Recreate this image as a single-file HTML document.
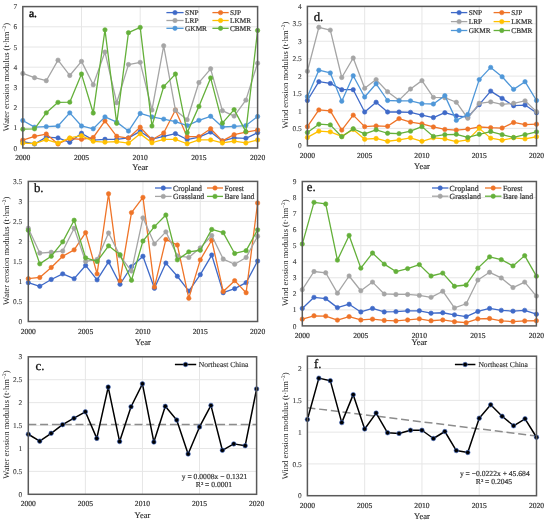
<!DOCTYPE html>
<html><head><meta charset="utf-8"><style>
html,body{margin:0;padding:0;background:#fff;width:550px;height:527px;overflow:hidden}
svg{display:block;will-change:transform}
text{font-family:"Liberation Serif", serif;text-rendering:geometricPrecision}
.tk{font-size:7.4px;fill:#383838;stroke:#383838;stroke-width:0.1px}
.yt{font-size:8.5px;fill:#262626}
.xk{font-size:7.6px;fill:#303030;stroke:#303030;stroke-width:0.2px}
.tt{font-size:8.5px;fill:#262626;stroke:#262626;stroke-width:0.15px}
.sup{font-size:5.5px}
.pl{font-size:12.8px;fill:#111;stroke:#111;stroke-width:0.3px}
.pla{font-size:11.4px;fill:#111;stroke:#111;stroke-width:0.55px}
.lg{font-size:7.3px;fill:#333333;stroke:#333;stroke-width:0.2px}
.lg3{font-size:7.6px;fill:#333;stroke:#333;stroke-width:0.15px}
.lg2{font-size:7.8px;fill:#333;stroke:#333;stroke-width:0.2px}
.eq{font-size:7.6px;fill:#333333;stroke:#333;stroke-width:0.2px}
</style></head><body>
<svg width="550" height="527" viewBox="0 0 550 527">
<rect width="550" height="527" fill="#fff"/>
<line x1="22.80" y1="127.80" x2="257.60" y2="127.80" stroke="#E6E6E6" stroke-width="1"/>
<line x1="22.80" y1="107.60" x2="257.60" y2="107.60" stroke="#E6E6E6" stroke-width="1"/>
<line x1="22.80" y1="87.40" x2="257.60" y2="87.40" stroke="#E6E6E6" stroke-width="1"/>
<line x1="22.80" y1="67.20" x2="257.60" y2="67.20" stroke="#E6E6E6" stroke-width="1"/>
<line x1="22.80" y1="47.00" x2="257.60" y2="47.00" stroke="#E6E6E6" stroke-width="1"/>
<line x1="22.80" y1="26.80" x2="257.60" y2="26.80" stroke="#E6E6E6" stroke-width="1"/>
<line x1="81.50" y1="6.60" x2="81.50" y2="148.00" stroke="#E6E6E6" stroke-width="1"/>
<line x1="140.20" y1="6.60" x2="140.20" y2="148.00" stroke="#E6E6E6" stroke-width="1"/>
<line x1="198.90" y1="6.60" x2="198.90" y2="148.00" stroke="#E6E6E6" stroke-width="1"/>
<text x="17.20" y="150.60" class="tk" text-anchor="end">0</text>
<text x="17.20" y="130.40" class="tk" text-anchor="end">1</text>
<text x="17.20" y="110.20" class="tk" text-anchor="end">2</text>
<text x="17.20" y="90.00" class="tk" text-anchor="end">3</text>
<text x="17.20" y="69.80" class="tk" text-anchor="end">4</text>
<text x="17.20" y="49.60" class="tk" text-anchor="end">5</text>
<text x="17.20" y="29.40" class="tk" text-anchor="end">6</text>
<text x="17.20" y="9.20" class="tk" text-anchor="end">7</text>
<text x="22.80" y="159.80" class="xk" text-anchor="middle">2000</text>
<text x="81.50" y="159.80" class="xk" text-anchor="middle">2005</text>
<text x="140.20" y="159.80" class="xk" text-anchor="middle">2010</text>
<text x="198.90" y="159.80" class="xk" text-anchor="middle">2015</text>
<text x="257.60" y="159.80" class="xk" text-anchor="middle">2020</text>
<text x="140.20" y="170.00" class="tt" text-anchor="middle">Year</text>
<text class="yt" text-anchor="middle" transform="translate(6.30 77.00) rotate(-90)" dy="3">Water erosion modulus (t·hm<tspan class="sup" dy="-3">−2</tspan><tspan dy="3">)</tspan></text>
<text x="29.00" y="16.70" class="pla">a.</text>
<line x1="307.40" y1="128.38" x2="536.50" y2="128.38" stroke="#E6E6E6" stroke-width="1"/>
<line x1="307.40" y1="110.95" x2="536.50" y2="110.95" stroke="#E6E6E6" stroke-width="1"/>
<line x1="307.40" y1="93.53" x2="536.50" y2="93.53" stroke="#E6E6E6" stroke-width="1"/>
<line x1="307.40" y1="76.10" x2="536.50" y2="76.10" stroke="#E6E6E6" stroke-width="1"/>
<line x1="307.40" y1="58.68" x2="536.50" y2="58.68" stroke="#E6E6E6" stroke-width="1"/>
<line x1="307.40" y1="41.25" x2="536.50" y2="41.25" stroke="#E6E6E6" stroke-width="1"/>
<line x1="307.40" y1="23.83" x2="536.50" y2="23.83" stroke="#E6E6E6" stroke-width="1"/>
<line x1="364.67" y1="6.40" x2="364.67" y2="145.80" stroke="#E6E6E6" stroke-width="1"/>
<line x1="421.95" y1="6.40" x2="421.95" y2="145.80" stroke="#E6E6E6" stroke-width="1"/>
<line x1="479.23" y1="6.40" x2="479.23" y2="145.80" stroke="#E6E6E6" stroke-width="1"/>
<text x="301.80" y="148.40" class="tk" text-anchor="end">0</text>
<text x="301.80" y="130.97" class="tk" text-anchor="end">0.5</text>
<text x="301.80" y="113.55" class="tk" text-anchor="end">1</text>
<text x="301.80" y="96.12" class="tk" text-anchor="end">1.5</text>
<text x="301.80" y="78.70" class="tk" text-anchor="end">2</text>
<text x="301.80" y="61.28" class="tk" text-anchor="end">2.5</text>
<text x="301.80" y="43.85" class="tk" text-anchor="end">3</text>
<text x="301.80" y="26.43" class="tk" text-anchor="end">3.5</text>
<text x="301.80" y="9.00" class="tk" text-anchor="end">4</text>
<text x="307.40" y="158.00" class="xk" text-anchor="middle">2000</text>
<text x="364.67" y="158.00" class="xk" text-anchor="middle">2005</text>
<text x="421.95" y="158.00" class="xk" text-anchor="middle">2010</text>
<text x="479.23" y="158.00" class="xk" text-anchor="middle">2015</text>
<text x="536.50" y="158.00" class="xk" text-anchor="middle">2020</text>
<text x="421.95" y="169.00" class="tt" text-anchor="middle">Year</text>
<text class="yt" text-anchor="middle" transform="translate(284.80 75.00) rotate(-90)" dy="3">Wind erosion modulus (t·hm<tspan class="sup" dy="-3">−2</tspan><tspan dy="3">)</tspan></text>
<text x="313.70" y="20.80" class="pl">d.</text>
<line x1="28.30" y1="301.49" x2="257.60" y2="301.49" stroke="#E6E6E6" stroke-width="1"/>
<line x1="28.30" y1="281.47" x2="257.60" y2="281.47" stroke="#E6E6E6" stroke-width="1"/>
<line x1="28.30" y1="261.46" x2="257.60" y2="261.46" stroke="#E6E6E6" stroke-width="1"/>
<line x1="28.30" y1="241.44" x2="257.60" y2="241.44" stroke="#E6E6E6" stroke-width="1"/>
<line x1="28.30" y1="221.43" x2="257.60" y2="221.43" stroke="#E6E6E6" stroke-width="1"/>
<line x1="28.30" y1="201.41" x2="257.60" y2="201.41" stroke="#E6E6E6" stroke-width="1"/>
<line x1="85.62" y1="181.40" x2="85.62" y2="321.50" stroke="#E6E6E6" stroke-width="1"/>
<line x1="142.95" y1="181.40" x2="142.95" y2="321.50" stroke="#E6E6E6" stroke-width="1"/>
<line x1="200.28" y1="181.40" x2="200.28" y2="321.50" stroke="#E6E6E6" stroke-width="1"/>
<text x="22.20" y="324.10" class="tk" text-anchor="end">0</text>
<text x="22.20" y="304.09" class="tk" text-anchor="end">0.5</text>
<text x="22.20" y="284.07" class="tk" text-anchor="end">1</text>
<text x="22.20" y="264.06" class="tk" text-anchor="end">1.5</text>
<text x="22.20" y="244.04" class="tk" text-anchor="end">2</text>
<text x="22.20" y="224.03" class="tk" text-anchor="end">2.5</text>
<text x="22.20" y="204.01" class="tk" text-anchor="end">3</text>
<text x="22.20" y="184.00" class="tk" text-anchor="end">3.5</text>
<text x="28.30" y="333.50" class="xk" text-anchor="middle">2000</text>
<text x="85.62" y="333.50" class="xk" text-anchor="middle">2005</text>
<text x="142.95" y="333.50" class="xk" text-anchor="middle">2010</text>
<text x="200.28" y="333.50" class="xk" text-anchor="middle">2015</text>
<text x="257.60" y="333.50" class="xk" text-anchor="middle">2020</text>
<text x="142.95" y="345.00" class="tt" text-anchor="middle">Year</text>
<text class="yt" text-anchor="middle" transform="translate(6.10 250.80) rotate(-90)" dy="3">Water erosion modulus (t·hm<tspan class="sup" dy="-3">−2</tspan><tspan dy="3">)</tspan></text>
<text x="33.90" y="192.00" class="pl">b.</text>
<line x1="302.30" y1="309.86" x2="536.40" y2="309.86" stroke="#E6E6E6" stroke-width="1"/>
<line x1="302.30" y1="293.81" x2="536.40" y2="293.81" stroke="#E6E6E6" stroke-width="1"/>
<line x1="302.30" y1="277.77" x2="536.40" y2="277.77" stroke="#E6E6E6" stroke-width="1"/>
<line x1="302.30" y1="261.72" x2="536.40" y2="261.72" stroke="#E6E6E6" stroke-width="1"/>
<line x1="302.30" y1="245.68" x2="536.40" y2="245.68" stroke="#E6E6E6" stroke-width="1"/>
<line x1="302.30" y1="229.63" x2="536.40" y2="229.63" stroke="#E6E6E6" stroke-width="1"/>
<line x1="302.30" y1="213.59" x2="536.40" y2="213.59" stroke="#E6E6E6" stroke-width="1"/>
<line x1="302.30" y1="197.54" x2="536.40" y2="197.54" stroke="#E6E6E6" stroke-width="1"/>
<line x1="360.82" y1="181.50" x2="360.82" y2="325.90" stroke="#E6E6E6" stroke-width="1"/>
<line x1="419.35" y1="181.50" x2="419.35" y2="325.90" stroke="#E6E6E6" stroke-width="1"/>
<line x1="477.88" y1="181.50" x2="477.88" y2="325.90" stroke="#E6E6E6" stroke-width="1"/>
<text x="296.50" y="328.50" class="tk" text-anchor="end">0</text>
<text x="296.50" y="312.46" class="tk" text-anchor="end">1</text>
<text x="296.50" y="296.41" class="tk" text-anchor="end">2</text>
<text x="296.50" y="280.37" class="tk" text-anchor="end">3</text>
<text x="296.50" y="264.32" class="tk" text-anchor="end">4</text>
<text x="296.50" y="248.28" class="tk" text-anchor="end">5</text>
<text x="296.50" y="232.23" class="tk" text-anchor="end">6</text>
<text x="296.50" y="216.19" class="tk" text-anchor="end">7</text>
<text x="296.50" y="200.14" class="tk" text-anchor="end">8</text>
<text x="296.50" y="184.10" class="tk" text-anchor="end">9</text>
<text x="302.30" y="337.50" class="xk" text-anchor="middle">2000</text>
<text x="360.82" y="337.50" class="xk" text-anchor="middle">2005</text>
<text x="419.35" y="337.50" class="xk" text-anchor="middle">2010</text>
<text x="477.88" y="337.50" class="xk" text-anchor="middle">2015</text>
<text x="536.40" y="337.50" class="xk" text-anchor="middle">2020</text>
<text x="419.35" y="345.20" class="tt" text-anchor="middle">Year</text>
<text class="yt" text-anchor="middle" transform="translate(284.80 252.70) rotate(-90)" dy="3">Wind erosion modulus (t·hm<tspan class="sup" dy="-3">−2</tspan><tspan dy="3">)</tspan></text>
<text x="306.80" y="190.60" class="pl">e.</text>
<line x1="28.30" y1="471.38" x2="256.60" y2="471.38" stroke="#E6E6E6" stroke-width="1"/>
<line x1="28.30" y1="448.47" x2="256.60" y2="448.47" stroke="#E6E6E6" stroke-width="1"/>
<line x1="28.30" y1="425.55" x2="256.60" y2="425.55" stroke="#E6E6E6" stroke-width="1"/>
<line x1="28.30" y1="402.63" x2="256.60" y2="402.63" stroke="#E6E6E6" stroke-width="1"/>
<line x1="28.30" y1="379.72" x2="256.60" y2="379.72" stroke="#E6E6E6" stroke-width="1"/>
<line x1="85.38" y1="356.80" x2="85.38" y2="494.30" stroke="#E6E6E6" stroke-width="1"/>
<line x1="142.45" y1="356.80" x2="142.45" y2="494.30" stroke="#E6E6E6" stroke-width="1"/>
<line x1="199.53" y1="356.80" x2="199.53" y2="494.30" stroke="#E6E6E6" stroke-width="1"/>
<text x="22.20" y="496.90" class="tk" text-anchor="end">0</text>
<text x="22.20" y="473.98" class="tk" text-anchor="end">0.5</text>
<text x="22.20" y="451.07" class="tk" text-anchor="end">1</text>
<text x="22.20" y="428.15" class="tk" text-anchor="end">1.5</text>
<text x="22.20" y="405.23" class="tk" text-anchor="end">2</text>
<text x="22.20" y="382.32" class="tk" text-anchor="end">2.5</text>
<text x="22.20" y="359.40" class="tk" text-anchor="end">3</text>
<text x="28.30" y="506.40" class="xk" text-anchor="middle">2000</text>
<text x="85.38" y="506.40" class="xk" text-anchor="middle">2005</text>
<text x="142.45" y="506.40" class="xk" text-anchor="middle">2010</text>
<text x="199.53" y="506.40" class="xk" text-anchor="middle">2015</text>
<text x="256.60" y="506.40" class="xk" text-anchor="middle">2020</text>
<text x="142.45" y="517.60" class="tt" text-anchor="middle">Year</text>
<text class="yt" text-anchor="middle" transform="translate(6.00 424.50) rotate(-90)" dy="3">Water erosion modulus (t·hm<tspan class="sup" dy="-3">−2</tspan><tspan dy="3">)</tspan></text>
<text x="35.50" y="370.00" class="pl">c.</text>
<line x1="307.40" y1="463.92" x2="536.50" y2="463.92" stroke="#E6E6E6" stroke-width="1"/>
<line x1="307.40" y1="432.15" x2="536.50" y2="432.15" stroke="#E6E6E6" stroke-width="1"/>
<line x1="307.40" y1="400.37" x2="536.50" y2="400.37" stroke="#E6E6E6" stroke-width="1"/>
<line x1="307.40" y1="368.59" x2="536.50" y2="368.59" stroke="#E6E6E6" stroke-width="1"/>
<line x1="364.67" y1="356.20" x2="364.67" y2="495.70" stroke="#E6E6E6" stroke-width="1"/>
<line x1="421.95" y1="356.20" x2="421.95" y2="495.70" stroke="#E6E6E6" stroke-width="1"/>
<line x1="479.23" y1="356.20" x2="479.23" y2="495.70" stroke="#E6E6E6" stroke-width="1"/>
<text x="301.80" y="498.30" class="tk" text-anchor="end">0</text>
<text x="301.80" y="466.52" class="tk" text-anchor="end">0.5</text>
<text x="301.80" y="434.75" class="tk" text-anchor="end">1</text>
<text x="301.80" y="402.97" class="tk" text-anchor="end">1.5</text>
<text x="301.80" y="371.19" class="tk" text-anchor="end">2</text>
<text x="307.40" y="508.00" class="xk" text-anchor="middle">2000</text>
<text x="364.67" y="508.00" class="xk" text-anchor="middle">2005</text>
<text x="421.95" y="508.00" class="xk" text-anchor="middle">2010</text>
<text x="479.23" y="508.00" class="xk" text-anchor="middle">2015</text>
<text x="536.50" y="508.00" class="xk" text-anchor="middle">2020</text>
<text x="421.95" y="519.00" class="tt" text-anchor="middle">Year</text>
<text class="yt" text-anchor="middle" transform="translate(284.80 425.80) rotate(-90)" dy="3">Wind erosion modulus (t·hm<tspan class="sup" dy="-3">−2</tspan><tspan dy="3">)</tspan></text>
<text x="314.00" y="367.50" class="pl">f.</text>
<polyline points="22.80,141.54 34.54,143.96 46.28,137.09 58.02,137.90 69.76,142.34 81.50,133.25 93.24,140.12 104.98,139.31 116.72,139.31 128.46,137.90 140.20,131.44 151.94,139.11 163.68,136.28 175.42,133.66 187.16,139.52 198.90,137.09 210.64,132.04 222.38,140.93 234.12,137.90 245.86,138.30 257.60,132.65" fill="none" stroke="#3F6AC8" stroke-width="1.30" stroke-linejoin="round"/>
<circle cx="22.80" cy="141.54" r="2.20" fill="#3F6AC8" stroke="#3F6AC8" stroke-width="0.6"/>
<circle cx="34.54" cy="143.96" r="2.20" fill="#3F6AC8" stroke="#3F6AC8" stroke-width="0.6"/>
<circle cx="46.28" cy="137.09" r="2.20" fill="#3F6AC8" stroke="#3F6AC8" stroke-width="0.6"/>
<circle cx="58.02" cy="137.90" r="2.20" fill="#3F6AC8" stroke="#3F6AC8" stroke-width="0.6"/>
<circle cx="69.76" cy="142.34" r="2.20" fill="#3F6AC8" stroke="#3F6AC8" stroke-width="0.6"/>
<circle cx="81.50" cy="133.25" r="2.20" fill="#3F6AC8" stroke="#3F6AC8" stroke-width="0.6"/>
<circle cx="93.24" cy="140.12" r="2.20" fill="#3F6AC8" stroke="#3F6AC8" stroke-width="0.6"/>
<circle cx="104.98" cy="139.31" r="2.20" fill="#3F6AC8" stroke="#3F6AC8" stroke-width="0.6"/>
<circle cx="116.72" cy="139.31" r="2.20" fill="#3F6AC8" stroke="#3F6AC8" stroke-width="0.6"/>
<circle cx="128.46" cy="137.90" r="2.20" fill="#3F6AC8" stroke="#3F6AC8" stroke-width="0.6"/>
<circle cx="140.20" cy="131.44" r="2.20" fill="#3F6AC8" stroke="#3F6AC8" stroke-width="0.6"/>
<circle cx="151.94" cy="139.11" r="2.20" fill="#3F6AC8" stroke="#3F6AC8" stroke-width="0.6"/>
<circle cx="163.68" cy="136.28" r="2.20" fill="#3F6AC8" stroke="#3F6AC8" stroke-width="0.6"/>
<circle cx="175.42" cy="133.66" r="2.20" fill="#3F6AC8" stroke="#3F6AC8" stroke-width="0.6"/>
<circle cx="187.16" cy="139.52" r="2.20" fill="#3F6AC8" stroke="#3F6AC8" stroke-width="0.6"/>
<circle cx="198.90" cy="137.09" r="2.20" fill="#3F6AC8" stroke="#3F6AC8" stroke-width="0.6"/>
<circle cx="210.64" cy="132.04" r="2.20" fill="#3F6AC8" stroke="#3F6AC8" stroke-width="0.6"/>
<circle cx="222.38" cy="140.93" r="2.20" fill="#3F6AC8" stroke="#3F6AC8" stroke-width="0.6"/>
<circle cx="234.12" cy="137.90" r="2.20" fill="#3F6AC8" stroke="#3F6AC8" stroke-width="0.6"/>
<circle cx="245.86" cy="138.30" r="2.20" fill="#3F6AC8" stroke="#3F6AC8" stroke-width="0.6"/>
<circle cx="257.60" cy="132.65" r="2.20" fill="#3F6AC8" stroke="#3F6AC8" stroke-width="0.6"/>
<polyline points="307.40,100.50 318.85,81.68 330.31,83.42 341.76,89.69 353.22,89.69 364.67,112.00 376.13,102.24 387.58,112.00 399.04,112.00 410.50,112.34 421.95,115.13 433.40,117.57 444.86,112.69 456.31,115.83 467.77,117.22 479.23,104.68 490.68,91.09 502.13,98.40 513.59,105.72 525.05,105.03 536.50,112.69" fill="none" stroke="#3F6AC8" stroke-width="1.30" stroke-linejoin="round"/>
<circle cx="307.40" cy="100.50" r="2.20" fill="#3F6AC8" stroke="#3F6AC8" stroke-width="0.6"/>
<circle cx="318.85" cy="81.68" r="2.20" fill="#3F6AC8" stroke="#3F6AC8" stroke-width="0.6"/>
<circle cx="330.31" cy="83.42" r="2.20" fill="#3F6AC8" stroke="#3F6AC8" stroke-width="0.6"/>
<circle cx="341.76" cy="89.69" r="2.20" fill="#3F6AC8" stroke="#3F6AC8" stroke-width="0.6"/>
<circle cx="353.22" cy="89.69" r="2.20" fill="#3F6AC8" stroke="#3F6AC8" stroke-width="0.6"/>
<circle cx="364.67" cy="112.00" r="2.20" fill="#3F6AC8" stroke="#3F6AC8" stroke-width="0.6"/>
<circle cx="376.13" cy="102.24" r="2.20" fill="#3F6AC8" stroke="#3F6AC8" stroke-width="0.6"/>
<circle cx="387.58" cy="112.00" r="2.20" fill="#3F6AC8" stroke="#3F6AC8" stroke-width="0.6"/>
<circle cx="399.04" cy="112.00" r="2.20" fill="#3F6AC8" stroke="#3F6AC8" stroke-width="0.6"/>
<circle cx="410.50" cy="112.34" r="2.20" fill="#3F6AC8" stroke="#3F6AC8" stroke-width="0.6"/>
<circle cx="421.95" cy="115.13" r="2.20" fill="#3F6AC8" stroke="#3F6AC8" stroke-width="0.6"/>
<circle cx="433.40" cy="117.57" r="2.20" fill="#3F6AC8" stroke="#3F6AC8" stroke-width="0.6"/>
<circle cx="444.86" cy="112.69" r="2.20" fill="#3F6AC8" stroke="#3F6AC8" stroke-width="0.6"/>
<circle cx="456.31" cy="115.83" r="2.20" fill="#3F6AC8" stroke="#3F6AC8" stroke-width="0.6"/>
<circle cx="467.77" cy="117.22" r="2.20" fill="#3F6AC8" stroke="#3F6AC8" stroke-width="0.6"/>
<circle cx="479.23" cy="104.68" r="2.20" fill="#3F6AC8" stroke="#3F6AC8" stroke-width="0.6"/>
<circle cx="490.68" cy="91.09" r="2.20" fill="#3F6AC8" stroke="#3F6AC8" stroke-width="0.6"/>
<circle cx="502.13" cy="98.40" r="2.20" fill="#3F6AC8" stroke="#3F6AC8" stroke-width="0.6"/>
<circle cx="513.59" cy="105.72" r="2.20" fill="#3F6AC8" stroke="#3F6AC8" stroke-width="0.6"/>
<circle cx="525.05" cy="105.03" r="2.20" fill="#3F6AC8" stroke="#3F6AC8" stroke-width="0.6"/>
<circle cx="536.50" cy="112.69" r="2.20" fill="#3F6AC8" stroke="#3F6AC8" stroke-width="0.6"/>
<polyline points="22.80,140.12 34.54,136.28 46.28,134.06 58.02,143.96 69.76,138.51 81.50,139.31 93.24,137.50 104.98,120.93 116.72,136.28 128.46,138.10 140.20,127.19 151.94,139.72 163.68,133.05 175.42,110.02 187.16,136.69 198.90,136.69 210.64,128.81 222.38,140.93 234.12,134.67 245.86,132.04 257.60,130.02" fill="none" stroke="#EF7428" stroke-width="1.30" stroke-linejoin="round"/>
<circle cx="22.80" cy="140.12" r="2.20" fill="#EF7428" stroke="#EF7428" stroke-width="0.6"/>
<circle cx="34.54" cy="136.28" r="2.20" fill="#EF7428" stroke="#EF7428" stroke-width="0.6"/>
<circle cx="46.28" cy="134.06" r="2.20" fill="#EF7428" stroke="#EF7428" stroke-width="0.6"/>
<circle cx="58.02" cy="143.96" r="2.20" fill="#EF7428" stroke="#EF7428" stroke-width="0.6"/>
<circle cx="69.76" cy="138.51" r="2.20" fill="#EF7428" stroke="#EF7428" stroke-width="0.6"/>
<circle cx="81.50" cy="139.31" r="2.20" fill="#EF7428" stroke="#EF7428" stroke-width="0.6"/>
<circle cx="93.24" cy="137.50" r="2.20" fill="#EF7428" stroke="#EF7428" stroke-width="0.6"/>
<circle cx="104.98" cy="120.93" r="2.20" fill="#EF7428" stroke="#EF7428" stroke-width="0.6"/>
<circle cx="116.72" cy="136.28" r="2.20" fill="#EF7428" stroke="#EF7428" stroke-width="0.6"/>
<circle cx="128.46" cy="138.10" r="2.20" fill="#EF7428" stroke="#EF7428" stroke-width="0.6"/>
<circle cx="140.20" cy="127.19" r="2.20" fill="#EF7428" stroke="#EF7428" stroke-width="0.6"/>
<circle cx="151.94" cy="139.72" r="2.20" fill="#EF7428" stroke="#EF7428" stroke-width="0.6"/>
<circle cx="163.68" cy="133.05" r="2.20" fill="#EF7428" stroke="#EF7428" stroke-width="0.6"/>
<circle cx="175.42" cy="110.02" r="2.20" fill="#EF7428" stroke="#EF7428" stroke-width="0.6"/>
<circle cx="187.16" cy="136.69" r="2.20" fill="#EF7428" stroke="#EF7428" stroke-width="0.6"/>
<circle cx="198.90" cy="136.69" r="2.20" fill="#EF7428" stroke="#EF7428" stroke-width="0.6"/>
<circle cx="210.64" cy="128.81" r="2.20" fill="#EF7428" stroke="#EF7428" stroke-width="0.6"/>
<circle cx="222.38" cy="140.93" r="2.20" fill="#EF7428" stroke="#EF7428" stroke-width="0.6"/>
<circle cx="234.12" cy="134.67" r="2.20" fill="#EF7428" stroke="#EF7428" stroke-width="0.6"/>
<circle cx="245.86" cy="132.04" r="2.20" fill="#EF7428" stroke="#EF7428" stroke-width="0.6"/>
<circle cx="257.60" cy="130.02" r="2.20" fill="#EF7428" stroke="#EF7428" stroke-width="0.6"/>
<polyline points="307.40,126.63 318.85,109.90 330.31,110.95 341.76,130.12 353.22,115.13 364.67,126.63 376.13,125.94 387.58,126.28 399.04,118.62 410.50,122.10 421.95,123.84 433.40,126.98 444.86,129.42 456.31,130.12 467.77,129.07 479.23,126.98 490.68,127.68 502.13,128.03 513.59,122.45 525.05,124.54 536.50,124.19" fill="none" stroke="#EF7428" stroke-width="1.30" stroke-linejoin="round"/>
<circle cx="307.40" cy="126.63" r="2.20" fill="#EF7428" stroke="#EF7428" stroke-width="0.6"/>
<circle cx="318.85" cy="109.90" r="2.20" fill="#EF7428" stroke="#EF7428" stroke-width="0.6"/>
<circle cx="330.31" cy="110.95" r="2.20" fill="#EF7428" stroke="#EF7428" stroke-width="0.6"/>
<circle cx="341.76" cy="130.12" r="2.20" fill="#EF7428" stroke="#EF7428" stroke-width="0.6"/>
<circle cx="353.22" cy="115.13" r="2.20" fill="#EF7428" stroke="#EF7428" stroke-width="0.6"/>
<circle cx="364.67" cy="126.63" r="2.20" fill="#EF7428" stroke="#EF7428" stroke-width="0.6"/>
<circle cx="376.13" cy="125.94" r="2.20" fill="#EF7428" stroke="#EF7428" stroke-width="0.6"/>
<circle cx="387.58" cy="126.28" r="2.20" fill="#EF7428" stroke="#EF7428" stroke-width="0.6"/>
<circle cx="399.04" cy="118.62" r="2.20" fill="#EF7428" stroke="#EF7428" stroke-width="0.6"/>
<circle cx="410.50" cy="122.10" r="2.20" fill="#EF7428" stroke="#EF7428" stroke-width="0.6"/>
<circle cx="421.95" cy="123.84" r="2.20" fill="#EF7428" stroke="#EF7428" stroke-width="0.6"/>
<circle cx="433.40" cy="126.98" r="2.20" fill="#EF7428" stroke="#EF7428" stroke-width="0.6"/>
<circle cx="444.86" cy="129.42" r="2.20" fill="#EF7428" stroke="#EF7428" stroke-width="0.6"/>
<circle cx="456.31" cy="130.12" r="2.20" fill="#EF7428" stroke="#EF7428" stroke-width="0.6"/>
<circle cx="467.77" cy="129.07" r="2.20" fill="#EF7428" stroke="#EF7428" stroke-width="0.6"/>
<circle cx="479.23" cy="126.98" r="2.20" fill="#EF7428" stroke="#EF7428" stroke-width="0.6"/>
<circle cx="490.68" cy="127.68" r="2.20" fill="#EF7428" stroke="#EF7428" stroke-width="0.6"/>
<circle cx="502.13" cy="128.03" r="2.20" fill="#EF7428" stroke="#EF7428" stroke-width="0.6"/>
<circle cx="513.59" cy="122.45" r="2.20" fill="#EF7428" stroke="#EF7428" stroke-width="0.6"/>
<circle cx="525.05" cy="124.54" r="2.20" fill="#EF7428" stroke="#EF7428" stroke-width="0.6"/>
<circle cx="536.50" cy="124.19" r="2.20" fill="#EF7428" stroke="#EF7428" stroke-width="0.6"/>
<polyline points="22.80,73.46 34.54,77.70 46.28,80.73 58.02,60.13 69.76,75.48 81.50,61.34 93.24,84.77 104.98,52.05 116.72,102.75 128.46,64.57 140.20,62.35 151.94,110.02 163.68,45.79 175.42,110.23 187.16,119.72 198.90,82.55 210.64,68.82 222.38,110.63 234.12,116.08 245.86,100.13 257.60,63.16" fill="none" stroke="#A5A5A5" stroke-width="1.30" stroke-linejoin="round"/>
<circle cx="22.80" cy="73.46" r="2.20" fill="#A5A5A5" stroke="#A5A5A5" stroke-width="0.6"/>
<circle cx="34.54" cy="77.70" r="2.20" fill="#A5A5A5" stroke="#A5A5A5" stroke-width="0.6"/>
<circle cx="46.28" cy="80.73" r="2.20" fill="#A5A5A5" stroke="#A5A5A5" stroke-width="0.6"/>
<circle cx="58.02" cy="60.13" r="2.20" fill="#A5A5A5" stroke="#A5A5A5" stroke-width="0.6"/>
<circle cx="69.76" cy="75.48" r="2.20" fill="#A5A5A5" stroke="#A5A5A5" stroke-width="0.6"/>
<circle cx="81.50" cy="61.34" r="2.20" fill="#A5A5A5" stroke="#A5A5A5" stroke-width="0.6"/>
<circle cx="93.24" cy="84.77" r="2.20" fill="#A5A5A5" stroke="#A5A5A5" stroke-width="0.6"/>
<circle cx="104.98" cy="52.05" r="2.20" fill="#A5A5A5" stroke="#A5A5A5" stroke-width="0.6"/>
<circle cx="116.72" cy="102.75" r="2.20" fill="#A5A5A5" stroke="#A5A5A5" stroke-width="0.6"/>
<circle cx="128.46" cy="64.57" r="2.20" fill="#A5A5A5" stroke="#A5A5A5" stroke-width="0.6"/>
<circle cx="140.20" cy="62.35" r="2.20" fill="#A5A5A5" stroke="#A5A5A5" stroke-width="0.6"/>
<circle cx="151.94" cy="110.02" r="2.20" fill="#A5A5A5" stroke="#A5A5A5" stroke-width="0.6"/>
<circle cx="163.68" cy="45.79" r="2.20" fill="#A5A5A5" stroke="#A5A5A5" stroke-width="0.6"/>
<circle cx="175.42" cy="110.23" r="2.20" fill="#A5A5A5" stroke="#A5A5A5" stroke-width="0.6"/>
<circle cx="187.16" cy="119.72" r="2.20" fill="#A5A5A5" stroke="#A5A5A5" stroke-width="0.6"/>
<circle cx="198.90" cy="82.55" r="2.20" fill="#A5A5A5" stroke="#A5A5A5" stroke-width="0.6"/>
<circle cx="210.64" cy="68.82" r="2.20" fill="#A5A5A5" stroke="#A5A5A5" stroke-width="0.6"/>
<circle cx="222.38" cy="110.63" r="2.20" fill="#A5A5A5" stroke="#A5A5A5" stroke-width="0.6"/>
<circle cx="234.12" cy="116.08" r="2.20" fill="#A5A5A5" stroke="#A5A5A5" stroke-width="0.6"/>
<circle cx="245.86" cy="100.13" r="2.20" fill="#A5A5A5" stroke="#A5A5A5" stroke-width="0.6"/>
<circle cx="257.60" cy="63.16" r="2.20" fill="#A5A5A5" stroke="#A5A5A5" stroke-width="0.6"/>
<polyline points="307.40,71.22 318.85,27.31 330.31,30.10 341.76,77.49 353.22,57.98 364.67,88.30 376.13,79.59 387.58,91.78 399.04,100.15 410.50,88.99 421.95,80.63 433.40,97.36 444.86,97.71 456.31,102.24 467.77,118.27 479.23,103.28 490.68,101.89 502.13,104.33 513.59,103.28 525.05,100.84 536.50,111.65" fill="none" stroke="#A5A5A5" stroke-width="1.30" stroke-linejoin="round"/>
<circle cx="307.40" cy="71.22" r="2.20" fill="#A5A5A5" stroke="#A5A5A5" stroke-width="0.6"/>
<circle cx="318.85" cy="27.31" r="2.20" fill="#A5A5A5" stroke="#A5A5A5" stroke-width="0.6"/>
<circle cx="330.31" cy="30.10" r="2.20" fill="#A5A5A5" stroke="#A5A5A5" stroke-width="0.6"/>
<circle cx="341.76" cy="77.49" r="2.20" fill="#A5A5A5" stroke="#A5A5A5" stroke-width="0.6"/>
<circle cx="353.22" cy="57.98" r="2.20" fill="#A5A5A5" stroke="#A5A5A5" stroke-width="0.6"/>
<circle cx="364.67" cy="88.30" r="2.20" fill="#A5A5A5" stroke="#A5A5A5" stroke-width="0.6"/>
<circle cx="376.13" cy="79.59" r="2.20" fill="#A5A5A5" stroke="#A5A5A5" stroke-width="0.6"/>
<circle cx="387.58" cy="91.78" r="2.20" fill="#A5A5A5" stroke="#A5A5A5" stroke-width="0.6"/>
<circle cx="399.04" cy="100.15" r="2.20" fill="#A5A5A5" stroke="#A5A5A5" stroke-width="0.6"/>
<circle cx="410.50" cy="88.99" r="2.20" fill="#A5A5A5" stroke="#A5A5A5" stroke-width="0.6"/>
<circle cx="421.95" cy="80.63" r="2.20" fill="#A5A5A5" stroke="#A5A5A5" stroke-width="0.6"/>
<circle cx="433.40" cy="97.36" r="2.20" fill="#A5A5A5" stroke="#A5A5A5" stroke-width="0.6"/>
<circle cx="444.86" cy="97.71" r="2.20" fill="#A5A5A5" stroke="#A5A5A5" stroke-width="0.6"/>
<circle cx="456.31" cy="102.24" r="2.20" fill="#A5A5A5" stroke="#A5A5A5" stroke-width="0.6"/>
<circle cx="467.77" cy="118.27" r="2.20" fill="#A5A5A5" stroke="#A5A5A5" stroke-width="0.6"/>
<circle cx="479.23" cy="103.28" r="2.20" fill="#A5A5A5" stroke="#A5A5A5" stroke-width="0.6"/>
<circle cx="490.68" cy="101.89" r="2.20" fill="#A5A5A5" stroke="#A5A5A5" stroke-width="0.6"/>
<circle cx="502.13" cy="104.33" r="2.20" fill="#A5A5A5" stroke="#A5A5A5" stroke-width="0.6"/>
<circle cx="513.59" cy="103.28" r="2.20" fill="#A5A5A5" stroke="#A5A5A5" stroke-width="0.6"/>
<circle cx="525.05" cy="100.84" r="2.20" fill="#A5A5A5" stroke="#A5A5A5" stroke-width="0.6"/>
<circle cx="536.50" cy="111.65" r="2.20" fill="#A5A5A5" stroke="#A5A5A5" stroke-width="0.6"/>
<polyline points="22.80,143.15 34.54,143.56 46.28,139.72 58.02,143.15 69.76,137.90 81.50,135.68 93.24,141.33 104.98,142.14 116.72,141.54 128.46,143.15 140.20,133.86 151.94,142.75 163.68,139.31 175.42,139.31 187.16,143.76 198.90,139.92 210.64,139.92 222.38,142.95 234.12,141.13 245.86,142.95 257.60,139.92" fill="none" stroke="#FFC000" stroke-width="1.30" stroke-linejoin="round"/>
<circle cx="22.80" cy="143.15" r="2.20" fill="#FFC000" stroke="#FFC000" stroke-width="0.6"/>
<circle cx="34.54" cy="143.56" r="2.20" fill="#FFC000" stroke="#FFC000" stroke-width="0.6"/>
<circle cx="46.28" cy="139.72" r="2.20" fill="#FFC000" stroke="#FFC000" stroke-width="0.6"/>
<circle cx="58.02" cy="143.15" r="2.20" fill="#FFC000" stroke="#FFC000" stroke-width="0.6"/>
<circle cx="69.76" cy="137.90" r="2.20" fill="#FFC000" stroke="#FFC000" stroke-width="0.6"/>
<circle cx="81.50" cy="135.68" r="2.20" fill="#FFC000" stroke="#FFC000" stroke-width="0.6"/>
<circle cx="93.24" cy="141.33" r="2.20" fill="#FFC000" stroke="#FFC000" stroke-width="0.6"/>
<circle cx="104.98" cy="142.14" r="2.20" fill="#FFC000" stroke="#FFC000" stroke-width="0.6"/>
<circle cx="116.72" cy="141.54" r="2.20" fill="#FFC000" stroke="#FFC000" stroke-width="0.6"/>
<circle cx="128.46" cy="143.15" r="2.20" fill="#FFC000" stroke="#FFC000" stroke-width="0.6"/>
<circle cx="140.20" cy="133.86" r="2.20" fill="#FFC000" stroke="#FFC000" stroke-width="0.6"/>
<circle cx="151.94" cy="142.75" r="2.20" fill="#FFC000" stroke="#FFC000" stroke-width="0.6"/>
<circle cx="163.68" cy="139.31" r="2.20" fill="#FFC000" stroke="#FFC000" stroke-width="0.6"/>
<circle cx="175.42" cy="139.31" r="2.20" fill="#FFC000" stroke="#FFC000" stroke-width="0.6"/>
<circle cx="187.16" cy="143.76" r="2.20" fill="#FFC000" stroke="#FFC000" stroke-width="0.6"/>
<circle cx="198.90" cy="139.92" r="2.20" fill="#FFC000" stroke="#FFC000" stroke-width="0.6"/>
<circle cx="210.64" cy="139.92" r="2.20" fill="#FFC000" stroke="#FFC000" stroke-width="0.6"/>
<circle cx="222.38" cy="142.95" r="2.20" fill="#FFC000" stroke="#FFC000" stroke-width="0.6"/>
<circle cx="234.12" cy="141.13" r="2.20" fill="#FFC000" stroke="#FFC000" stroke-width="0.6"/>
<circle cx="245.86" cy="142.95" r="2.20" fill="#FFC000" stroke="#FFC000" stroke-width="0.6"/>
<circle cx="257.60" cy="139.92" r="2.20" fill="#FFC000" stroke="#FFC000" stroke-width="0.6"/>
<polyline points="307.40,137.44 318.85,131.16 330.31,131.86 341.76,136.39 353.22,129.42 364.67,139.18 376.13,138.48 387.58,141.27 399.04,139.88 410.50,137.78 421.95,141.27 433.40,137.78 444.86,138.83 456.31,141.62 467.77,139.88 479.23,128.38 490.68,138.13 502.13,140.22 513.59,137.78 525.05,138.83 536.50,136.74" fill="none" stroke="#FFC000" stroke-width="1.30" stroke-linejoin="round"/>
<circle cx="307.40" cy="137.44" r="2.20" fill="#FFC000" stroke="#FFC000" stroke-width="0.6"/>
<circle cx="318.85" cy="131.16" r="2.20" fill="#FFC000" stroke="#FFC000" stroke-width="0.6"/>
<circle cx="330.31" cy="131.86" r="2.20" fill="#FFC000" stroke="#FFC000" stroke-width="0.6"/>
<circle cx="341.76" cy="136.39" r="2.20" fill="#FFC000" stroke="#FFC000" stroke-width="0.6"/>
<circle cx="353.22" cy="129.42" r="2.20" fill="#FFC000" stroke="#FFC000" stroke-width="0.6"/>
<circle cx="364.67" cy="139.18" r="2.20" fill="#FFC000" stroke="#FFC000" stroke-width="0.6"/>
<circle cx="376.13" cy="138.48" r="2.20" fill="#FFC000" stroke="#FFC000" stroke-width="0.6"/>
<circle cx="387.58" cy="141.27" r="2.20" fill="#FFC000" stroke="#FFC000" stroke-width="0.6"/>
<circle cx="399.04" cy="139.88" r="2.20" fill="#FFC000" stroke="#FFC000" stroke-width="0.6"/>
<circle cx="410.50" cy="137.78" r="2.20" fill="#FFC000" stroke="#FFC000" stroke-width="0.6"/>
<circle cx="421.95" cy="141.27" r="2.20" fill="#FFC000" stroke="#FFC000" stroke-width="0.6"/>
<circle cx="433.40" cy="137.78" r="2.20" fill="#FFC000" stroke="#FFC000" stroke-width="0.6"/>
<circle cx="444.86" cy="138.83" r="2.20" fill="#FFC000" stroke="#FFC000" stroke-width="0.6"/>
<circle cx="456.31" cy="141.62" r="2.20" fill="#FFC000" stroke="#FFC000" stroke-width="0.6"/>
<circle cx="467.77" cy="139.88" r="2.20" fill="#FFC000" stroke="#FFC000" stroke-width="0.6"/>
<circle cx="479.23" cy="128.38" r="2.20" fill="#FFC000" stroke="#FFC000" stroke-width="0.6"/>
<circle cx="490.68" cy="138.13" r="2.20" fill="#FFC000" stroke="#FFC000" stroke-width="0.6"/>
<circle cx="502.13" cy="140.22" r="2.20" fill="#FFC000" stroke="#FFC000" stroke-width="0.6"/>
<circle cx="513.59" cy="137.78" r="2.20" fill="#FFC000" stroke="#FFC000" stroke-width="0.6"/>
<circle cx="525.05" cy="138.83" r="2.20" fill="#FFC000" stroke="#FFC000" stroke-width="0.6"/>
<circle cx="536.50" cy="136.74" r="2.20" fill="#FFC000" stroke="#FFC000" stroke-width="0.6"/>
<polyline points="22.80,120.53 34.54,127.19 46.28,126.59 58.02,125.98 69.76,112.85 81.50,125.98 93.24,128.81 104.98,116.89 116.72,122.14 128.46,131.03 140.20,113.46 151.94,116.89 163.68,119.11 175.42,121.74 187.16,125.58 198.90,120.33 210.64,116.29 222.38,126.99 234.12,126.39 245.86,125.58 257.60,116.49" fill="none" stroke="#4F97D8" stroke-width="1.30" stroke-linejoin="round"/>
<circle cx="22.80" cy="120.53" r="2.20" fill="#4F97D8" stroke="#4F97D8" stroke-width="0.6"/>
<circle cx="34.54" cy="127.19" r="2.20" fill="#4F97D8" stroke="#4F97D8" stroke-width="0.6"/>
<circle cx="46.28" cy="126.59" r="2.20" fill="#4F97D8" stroke="#4F97D8" stroke-width="0.6"/>
<circle cx="58.02" cy="125.98" r="2.20" fill="#4F97D8" stroke="#4F97D8" stroke-width="0.6"/>
<circle cx="69.76" cy="112.85" r="2.20" fill="#4F97D8" stroke="#4F97D8" stroke-width="0.6"/>
<circle cx="81.50" cy="125.98" r="2.20" fill="#4F97D8" stroke="#4F97D8" stroke-width="0.6"/>
<circle cx="93.24" cy="128.81" r="2.20" fill="#4F97D8" stroke="#4F97D8" stroke-width="0.6"/>
<circle cx="104.98" cy="116.89" r="2.20" fill="#4F97D8" stroke="#4F97D8" stroke-width="0.6"/>
<circle cx="116.72" cy="122.14" r="2.20" fill="#4F97D8" stroke="#4F97D8" stroke-width="0.6"/>
<circle cx="128.46" cy="131.03" r="2.20" fill="#4F97D8" stroke="#4F97D8" stroke-width="0.6"/>
<circle cx="140.20" cy="113.46" r="2.20" fill="#4F97D8" stroke="#4F97D8" stroke-width="0.6"/>
<circle cx="151.94" cy="116.89" r="2.20" fill="#4F97D8" stroke="#4F97D8" stroke-width="0.6"/>
<circle cx="163.68" cy="119.11" r="2.20" fill="#4F97D8" stroke="#4F97D8" stroke-width="0.6"/>
<circle cx="175.42" cy="121.74" r="2.20" fill="#4F97D8" stroke="#4F97D8" stroke-width="0.6"/>
<circle cx="187.16" cy="125.58" r="2.20" fill="#4F97D8" stroke="#4F97D8" stroke-width="0.6"/>
<circle cx="198.90" cy="120.33" r="2.20" fill="#4F97D8" stroke="#4F97D8" stroke-width="0.6"/>
<circle cx="210.64" cy="116.29" r="2.20" fill="#4F97D8" stroke="#4F97D8" stroke-width="0.6"/>
<circle cx="222.38" cy="126.99" r="2.20" fill="#4F97D8" stroke="#4F97D8" stroke-width="0.6"/>
<circle cx="234.12" cy="126.39" r="2.20" fill="#4F97D8" stroke="#4F97D8" stroke-width="0.6"/>
<circle cx="245.86" cy="125.58" r="2.20" fill="#4F97D8" stroke="#4F97D8" stroke-width="0.6"/>
<circle cx="257.60" cy="116.49" r="2.20" fill="#4F97D8" stroke="#4F97D8" stroke-width="0.6"/>
<polyline points="307.40,96.66 318.85,70.18 330.31,72.96 341.76,101.19 353.22,75.75 364.67,97.01 376.13,83.77 387.58,100.50 399.04,100.84 410.50,100.84 421.95,103.63 433.40,103.98 444.86,95.62 456.31,120.36 467.77,114.44 479.23,79.59 490.68,67.39 502.13,76.80 513.59,89.34 525.05,81.68 536.50,100.50" fill="none" stroke="#4F97D8" stroke-width="1.30" stroke-linejoin="round"/>
<circle cx="307.40" cy="96.66" r="2.20" fill="#4F97D8" stroke="#4F97D8" stroke-width="0.6"/>
<circle cx="318.85" cy="70.18" r="2.20" fill="#4F97D8" stroke="#4F97D8" stroke-width="0.6"/>
<circle cx="330.31" cy="72.96" r="2.20" fill="#4F97D8" stroke="#4F97D8" stroke-width="0.6"/>
<circle cx="341.76" cy="101.19" r="2.20" fill="#4F97D8" stroke="#4F97D8" stroke-width="0.6"/>
<circle cx="353.22" cy="75.75" r="2.20" fill="#4F97D8" stroke="#4F97D8" stroke-width="0.6"/>
<circle cx="364.67" cy="97.01" r="2.20" fill="#4F97D8" stroke="#4F97D8" stroke-width="0.6"/>
<circle cx="376.13" cy="83.77" r="2.20" fill="#4F97D8" stroke="#4F97D8" stroke-width="0.6"/>
<circle cx="387.58" cy="100.50" r="2.20" fill="#4F97D8" stroke="#4F97D8" stroke-width="0.6"/>
<circle cx="399.04" cy="100.84" r="2.20" fill="#4F97D8" stroke="#4F97D8" stroke-width="0.6"/>
<circle cx="410.50" cy="100.84" r="2.20" fill="#4F97D8" stroke="#4F97D8" stroke-width="0.6"/>
<circle cx="421.95" cy="103.63" r="2.20" fill="#4F97D8" stroke="#4F97D8" stroke-width="0.6"/>
<circle cx="433.40" cy="103.98" r="2.20" fill="#4F97D8" stroke="#4F97D8" stroke-width="0.6"/>
<circle cx="444.86" cy="95.62" r="2.20" fill="#4F97D8" stroke="#4F97D8" stroke-width="0.6"/>
<circle cx="456.31" cy="120.36" r="2.20" fill="#4F97D8" stroke="#4F97D8" stroke-width="0.6"/>
<circle cx="467.77" cy="114.44" r="2.20" fill="#4F97D8" stroke="#4F97D8" stroke-width="0.6"/>
<circle cx="479.23" cy="79.59" r="2.20" fill="#4F97D8" stroke="#4F97D8" stroke-width="0.6"/>
<circle cx="490.68" cy="67.39" r="2.20" fill="#4F97D8" stroke="#4F97D8" stroke-width="0.6"/>
<circle cx="502.13" cy="76.80" r="2.20" fill="#4F97D8" stroke="#4F97D8" stroke-width="0.6"/>
<circle cx="513.59" cy="89.34" r="2.20" fill="#4F97D8" stroke="#4F97D8" stroke-width="0.6"/>
<circle cx="525.05" cy="81.68" r="2.20" fill="#4F97D8" stroke="#4F97D8" stroke-width="0.6"/>
<circle cx="536.50" cy="100.50" r="2.20" fill="#4F97D8" stroke="#4F97D8" stroke-width="0.6"/>
<polyline points="22.80,129.21 34.54,128.81 46.28,112.85 58.02,102.35 69.76,102.15 81.50,74.07 93.24,113.05 104.98,29.83 116.72,123.36 128.46,32.66 140.20,27.41 151.94,125.98 163.68,86.59 175.42,74.07 187.16,132.65 198.90,106.39 210.64,77.91 222.38,123.15 234.12,109.62 245.86,131.64 257.60,30.44" fill="none" stroke="#64B03A" stroke-width="1.30" stroke-linejoin="round"/>
<circle cx="22.80" cy="129.21" r="2.20" fill="#64B03A" stroke="#64B03A" stroke-width="0.6"/>
<circle cx="34.54" cy="128.81" r="2.20" fill="#64B03A" stroke="#64B03A" stroke-width="0.6"/>
<circle cx="46.28" cy="112.85" r="2.20" fill="#64B03A" stroke="#64B03A" stroke-width="0.6"/>
<circle cx="58.02" cy="102.35" r="2.20" fill="#64B03A" stroke="#64B03A" stroke-width="0.6"/>
<circle cx="69.76" cy="102.15" r="2.20" fill="#64B03A" stroke="#64B03A" stroke-width="0.6"/>
<circle cx="81.50" cy="74.07" r="2.20" fill="#64B03A" stroke="#64B03A" stroke-width="0.6"/>
<circle cx="93.24" cy="113.05" r="2.20" fill="#64B03A" stroke="#64B03A" stroke-width="0.6"/>
<circle cx="104.98" cy="29.83" r="2.20" fill="#64B03A" stroke="#64B03A" stroke-width="0.6"/>
<circle cx="116.72" cy="123.36" r="2.20" fill="#64B03A" stroke="#64B03A" stroke-width="0.6"/>
<circle cx="128.46" cy="32.66" r="2.20" fill="#64B03A" stroke="#64B03A" stroke-width="0.6"/>
<circle cx="140.20" cy="27.41" r="2.20" fill="#64B03A" stroke="#64B03A" stroke-width="0.6"/>
<circle cx="151.94" cy="125.98" r="2.20" fill="#64B03A" stroke="#64B03A" stroke-width="0.6"/>
<circle cx="163.68" cy="86.59" r="2.20" fill="#64B03A" stroke="#64B03A" stroke-width="0.6"/>
<circle cx="175.42" cy="74.07" r="2.20" fill="#64B03A" stroke="#64B03A" stroke-width="0.6"/>
<circle cx="187.16" cy="132.65" r="2.20" fill="#64B03A" stroke="#64B03A" stroke-width="0.6"/>
<circle cx="198.90" cy="106.39" r="2.20" fill="#64B03A" stroke="#64B03A" stroke-width="0.6"/>
<circle cx="210.64" cy="77.91" r="2.20" fill="#64B03A" stroke="#64B03A" stroke-width="0.6"/>
<circle cx="222.38" cy="123.15" r="2.20" fill="#64B03A" stroke="#64B03A" stroke-width="0.6"/>
<circle cx="234.12" cy="109.62" r="2.20" fill="#64B03A" stroke="#64B03A" stroke-width="0.6"/>
<circle cx="245.86" cy="131.64" r="2.20" fill="#64B03A" stroke="#64B03A" stroke-width="0.6"/>
<circle cx="257.60" cy="30.44" r="2.20" fill="#64B03A" stroke="#64B03A" stroke-width="0.6"/>
<polyline points="307.40,132.56 318.85,124.19 330.31,124.89 341.76,136.74 353.22,128.72 364.67,133.95 376.13,129.77 387.58,133.25 399.04,133.60 410.50,131.16 421.95,126.63 433.40,136.39 444.86,134.65 456.31,134.30 467.77,137.44 479.23,134.30 490.68,131.51 502.13,134.65 513.59,137.44 525.05,134.65 536.50,131.86" fill="none" stroke="#64B03A" stroke-width="1.30" stroke-linejoin="round"/>
<circle cx="307.40" cy="132.56" r="2.20" fill="#64B03A" stroke="#64B03A" stroke-width="0.6"/>
<circle cx="318.85" cy="124.19" r="2.20" fill="#64B03A" stroke="#64B03A" stroke-width="0.6"/>
<circle cx="330.31" cy="124.89" r="2.20" fill="#64B03A" stroke="#64B03A" stroke-width="0.6"/>
<circle cx="341.76" cy="136.74" r="2.20" fill="#64B03A" stroke="#64B03A" stroke-width="0.6"/>
<circle cx="353.22" cy="128.72" r="2.20" fill="#64B03A" stroke="#64B03A" stroke-width="0.6"/>
<circle cx="364.67" cy="133.95" r="2.20" fill="#64B03A" stroke="#64B03A" stroke-width="0.6"/>
<circle cx="376.13" cy="129.77" r="2.20" fill="#64B03A" stroke="#64B03A" stroke-width="0.6"/>
<circle cx="387.58" cy="133.25" r="2.20" fill="#64B03A" stroke="#64B03A" stroke-width="0.6"/>
<circle cx="399.04" cy="133.60" r="2.20" fill="#64B03A" stroke="#64B03A" stroke-width="0.6"/>
<circle cx="410.50" cy="131.16" r="2.20" fill="#64B03A" stroke="#64B03A" stroke-width="0.6"/>
<circle cx="421.95" cy="126.63" r="2.20" fill="#64B03A" stroke="#64B03A" stroke-width="0.6"/>
<circle cx="433.40" cy="136.39" r="2.20" fill="#64B03A" stroke="#64B03A" stroke-width="0.6"/>
<circle cx="444.86" cy="134.65" r="2.20" fill="#64B03A" stroke="#64B03A" stroke-width="0.6"/>
<circle cx="456.31" cy="134.30" r="2.20" fill="#64B03A" stroke="#64B03A" stroke-width="0.6"/>
<circle cx="467.77" cy="137.44" r="2.20" fill="#64B03A" stroke="#64B03A" stroke-width="0.6"/>
<circle cx="479.23" cy="134.30" r="2.20" fill="#64B03A" stroke="#64B03A" stroke-width="0.6"/>
<circle cx="490.68" cy="131.51" r="2.20" fill="#64B03A" stroke="#64B03A" stroke-width="0.6"/>
<circle cx="502.13" cy="134.65" r="2.20" fill="#64B03A" stroke="#64B03A" stroke-width="0.6"/>
<circle cx="513.59" cy="137.44" r="2.20" fill="#64B03A" stroke="#64B03A" stroke-width="0.6"/>
<circle cx="525.05" cy="134.65" r="2.20" fill="#64B03A" stroke="#64B03A" stroke-width="0.6"/>
<circle cx="536.50" cy="131.86" r="2.20" fill="#64B03A" stroke="#64B03A" stroke-width="0.6"/>
<polyline points="28.30,282.67 39.77,286.27 51.23,279.47 62.70,273.87 74.16,278.67 85.62,265.46 97.09,279.87 108.56,261.86 120.02,284.27 131.49,266.66 142.95,256.25 154.42,288.28 165.88,263.06 177.35,276.27 188.81,291.08 200.28,274.67 211.74,255.05 223.21,292.68 234.67,288.68 246.13,282.67 257.60,261.06" fill="none" stroke="#3F6AC8" stroke-width="1.30" stroke-linejoin="round"/>
<circle cx="28.30" cy="282.67" r="2.20" fill="#3F6AC8" stroke="#3F6AC8" stroke-width="0.6"/>
<circle cx="39.77" cy="286.27" r="2.20" fill="#3F6AC8" stroke="#3F6AC8" stroke-width="0.6"/>
<circle cx="51.23" cy="279.47" r="2.20" fill="#3F6AC8" stroke="#3F6AC8" stroke-width="0.6"/>
<circle cx="62.70" cy="273.87" r="2.20" fill="#3F6AC8" stroke="#3F6AC8" stroke-width="0.6"/>
<circle cx="74.16" cy="278.67" r="2.20" fill="#3F6AC8" stroke="#3F6AC8" stroke-width="0.6"/>
<circle cx="85.62" cy="265.46" r="2.20" fill="#3F6AC8" stroke="#3F6AC8" stroke-width="0.6"/>
<circle cx="97.09" cy="279.87" r="2.20" fill="#3F6AC8" stroke="#3F6AC8" stroke-width="0.6"/>
<circle cx="108.56" cy="261.86" r="2.20" fill="#3F6AC8" stroke="#3F6AC8" stroke-width="0.6"/>
<circle cx="120.02" cy="284.27" r="2.20" fill="#3F6AC8" stroke="#3F6AC8" stroke-width="0.6"/>
<circle cx="131.49" cy="266.66" r="2.20" fill="#3F6AC8" stroke="#3F6AC8" stroke-width="0.6"/>
<circle cx="142.95" cy="256.25" r="2.20" fill="#3F6AC8" stroke="#3F6AC8" stroke-width="0.6"/>
<circle cx="154.42" cy="288.28" r="2.20" fill="#3F6AC8" stroke="#3F6AC8" stroke-width="0.6"/>
<circle cx="165.88" cy="263.06" r="2.20" fill="#3F6AC8" stroke="#3F6AC8" stroke-width="0.6"/>
<circle cx="177.35" cy="276.27" r="2.20" fill="#3F6AC8" stroke="#3F6AC8" stroke-width="0.6"/>
<circle cx="188.81" cy="291.08" r="2.20" fill="#3F6AC8" stroke="#3F6AC8" stroke-width="0.6"/>
<circle cx="200.28" cy="274.67" r="2.20" fill="#3F6AC8" stroke="#3F6AC8" stroke-width="0.6"/>
<circle cx="211.74" cy="255.05" r="2.20" fill="#3F6AC8" stroke="#3F6AC8" stroke-width="0.6"/>
<circle cx="223.21" cy="292.68" r="2.20" fill="#3F6AC8" stroke="#3F6AC8" stroke-width="0.6"/>
<circle cx="234.67" cy="288.68" r="2.20" fill="#3F6AC8" stroke="#3F6AC8" stroke-width="0.6"/>
<circle cx="246.13" cy="282.67" r="2.20" fill="#3F6AC8" stroke="#3F6AC8" stroke-width="0.6"/>
<circle cx="257.60" cy="261.06" r="2.20" fill="#3F6AC8" stroke="#3F6AC8" stroke-width="0.6"/>
<polyline points="302.30,308.41 314.00,297.34 325.71,298.62 337.42,307.61 349.12,304.24 360.82,311.94 372.53,308.41 384.24,311.94 395.94,311.62 407.64,310.82 419.35,310.82 431.05,313.22 442.76,312.74 454.47,314.83 466.17,316.59 477.88,311.46 489.58,308.41 501.28,310.34 512.99,311.14 524.69,310.34 536.40,314.19" fill="none" stroke="#3F6AC8" stroke-width="1.30" stroke-linejoin="round"/>
<circle cx="302.30" cy="308.41" r="2.20" fill="#3F6AC8" stroke="#3F6AC8" stroke-width="0.6"/>
<circle cx="314.00" cy="297.34" r="2.20" fill="#3F6AC8" stroke="#3F6AC8" stroke-width="0.6"/>
<circle cx="325.71" cy="298.62" r="2.20" fill="#3F6AC8" stroke="#3F6AC8" stroke-width="0.6"/>
<circle cx="337.42" cy="307.61" r="2.20" fill="#3F6AC8" stroke="#3F6AC8" stroke-width="0.6"/>
<circle cx="349.12" cy="304.24" r="2.20" fill="#3F6AC8" stroke="#3F6AC8" stroke-width="0.6"/>
<circle cx="360.82" cy="311.94" r="2.20" fill="#3F6AC8" stroke="#3F6AC8" stroke-width="0.6"/>
<circle cx="372.53" cy="308.41" r="2.20" fill="#3F6AC8" stroke="#3F6AC8" stroke-width="0.6"/>
<circle cx="384.24" cy="311.94" r="2.20" fill="#3F6AC8" stroke="#3F6AC8" stroke-width="0.6"/>
<circle cx="395.94" cy="311.62" r="2.20" fill="#3F6AC8" stroke="#3F6AC8" stroke-width="0.6"/>
<circle cx="407.64" cy="310.82" r="2.20" fill="#3F6AC8" stroke="#3F6AC8" stroke-width="0.6"/>
<circle cx="419.35" cy="310.82" r="2.20" fill="#3F6AC8" stroke="#3F6AC8" stroke-width="0.6"/>
<circle cx="431.05" cy="313.22" r="2.20" fill="#3F6AC8" stroke="#3F6AC8" stroke-width="0.6"/>
<circle cx="442.76" cy="312.74" r="2.20" fill="#3F6AC8" stroke="#3F6AC8" stroke-width="0.6"/>
<circle cx="454.47" cy="314.83" r="2.20" fill="#3F6AC8" stroke="#3F6AC8" stroke-width="0.6"/>
<circle cx="466.17" cy="316.59" r="2.20" fill="#3F6AC8" stroke="#3F6AC8" stroke-width="0.6"/>
<circle cx="477.88" cy="311.46" r="2.20" fill="#3F6AC8" stroke="#3F6AC8" stroke-width="0.6"/>
<circle cx="489.58" cy="308.41" r="2.20" fill="#3F6AC8" stroke="#3F6AC8" stroke-width="0.6"/>
<circle cx="501.28" cy="310.34" r="2.20" fill="#3F6AC8" stroke="#3F6AC8" stroke-width="0.6"/>
<circle cx="512.99" cy="311.14" r="2.20" fill="#3F6AC8" stroke="#3F6AC8" stroke-width="0.6"/>
<circle cx="524.69" cy="310.34" r="2.20" fill="#3F6AC8" stroke="#3F6AC8" stroke-width="0.6"/>
<circle cx="536.40" cy="314.19" r="2.20" fill="#3F6AC8" stroke="#3F6AC8" stroke-width="0.6"/>
<polyline points="28.30,278.67 39.77,277.47 51.23,267.46 62.70,256.25 74.16,249.85 85.62,232.64 97.09,273.87 108.56,193.81 120.02,280.67 131.49,212.62 142.95,197.41 154.42,287.08 165.88,239.44 177.35,245.05 188.81,298.28 200.28,259.86 211.74,240.24 223.21,291.48 234.67,280.67 246.13,292.68 257.60,203.02" fill="none" stroke="#EF7428" stroke-width="1.30" stroke-linejoin="round"/>
<circle cx="28.30" cy="278.67" r="2.20" fill="#EF7428" stroke="#EF7428" stroke-width="0.6"/>
<circle cx="39.77" cy="277.47" r="2.20" fill="#EF7428" stroke="#EF7428" stroke-width="0.6"/>
<circle cx="51.23" cy="267.46" r="2.20" fill="#EF7428" stroke="#EF7428" stroke-width="0.6"/>
<circle cx="62.70" cy="256.25" r="2.20" fill="#EF7428" stroke="#EF7428" stroke-width="0.6"/>
<circle cx="74.16" cy="249.85" r="2.20" fill="#EF7428" stroke="#EF7428" stroke-width="0.6"/>
<circle cx="85.62" cy="232.64" r="2.20" fill="#EF7428" stroke="#EF7428" stroke-width="0.6"/>
<circle cx="97.09" cy="273.87" r="2.20" fill="#EF7428" stroke="#EF7428" stroke-width="0.6"/>
<circle cx="108.56" cy="193.81" r="2.20" fill="#EF7428" stroke="#EF7428" stroke-width="0.6"/>
<circle cx="120.02" cy="280.67" r="2.20" fill="#EF7428" stroke="#EF7428" stroke-width="0.6"/>
<circle cx="131.49" cy="212.62" r="2.20" fill="#EF7428" stroke="#EF7428" stroke-width="0.6"/>
<circle cx="142.95" cy="197.41" r="2.20" fill="#EF7428" stroke="#EF7428" stroke-width="0.6"/>
<circle cx="154.42" cy="287.08" r="2.20" fill="#EF7428" stroke="#EF7428" stroke-width="0.6"/>
<circle cx="165.88" cy="239.44" r="2.20" fill="#EF7428" stroke="#EF7428" stroke-width="0.6"/>
<circle cx="177.35" cy="245.05" r="2.20" fill="#EF7428" stroke="#EF7428" stroke-width="0.6"/>
<circle cx="188.81" cy="298.28" r="2.20" fill="#EF7428" stroke="#EF7428" stroke-width="0.6"/>
<circle cx="200.28" cy="259.86" r="2.20" fill="#EF7428" stroke="#EF7428" stroke-width="0.6"/>
<circle cx="211.74" cy="240.24" r="2.20" fill="#EF7428" stroke="#EF7428" stroke-width="0.6"/>
<circle cx="223.21" cy="291.48" r="2.20" fill="#EF7428" stroke="#EF7428" stroke-width="0.6"/>
<circle cx="234.67" cy="280.67" r="2.20" fill="#EF7428" stroke="#EF7428" stroke-width="0.6"/>
<circle cx="246.13" cy="292.68" r="2.20" fill="#EF7428" stroke="#EF7428" stroke-width="0.6"/>
<circle cx="257.60" cy="203.02" r="2.20" fill="#EF7428" stroke="#EF7428" stroke-width="0.6"/>
<polyline points="302.30,319.16 314.00,315.79 325.71,316.11 337.42,320.12 349.12,316.59 360.82,319.96 372.53,319.16 384.24,320.44 395.94,320.93 407.64,319.96 419.35,318.84 431.05,320.77 442.76,319.96 454.47,321.73 466.17,322.69 477.88,318.84 489.58,318.52 501.28,320.93 512.99,321.57 524.69,320.93 536.40,320.77" fill="none" stroke="#EF7428" stroke-width="1.30" stroke-linejoin="round"/>
<circle cx="302.30" cy="319.16" r="2.20" fill="#EF7428" stroke="#EF7428" stroke-width="0.6"/>
<circle cx="314.00" cy="315.79" r="2.20" fill="#EF7428" stroke="#EF7428" stroke-width="0.6"/>
<circle cx="325.71" cy="316.11" r="2.20" fill="#EF7428" stroke="#EF7428" stroke-width="0.6"/>
<circle cx="337.42" cy="320.12" r="2.20" fill="#EF7428" stroke="#EF7428" stroke-width="0.6"/>
<circle cx="349.12" cy="316.59" r="2.20" fill="#EF7428" stroke="#EF7428" stroke-width="0.6"/>
<circle cx="360.82" cy="319.96" r="2.20" fill="#EF7428" stroke="#EF7428" stroke-width="0.6"/>
<circle cx="372.53" cy="319.16" r="2.20" fill="#EF7428" stroke="#EF7428" stroke-width="0.6"/>
<circle cx="384.24" cy="320.44" r="2.20" fill="#EF7428" stroke="#EF7428" stroke-width="0.6"/>
<circle cx="395.94" cy="320.93" r="2.20" fill="#EF7428" stroke="#EF7428" stroke-width="0.6"/>
<circle cx="407.64" cy="319.96" r="2.20" fill="#EF7428" stroke="#EF7428" stroke-width="0.6"/>
<circle cx="419.35" cy="318.84" r="2.20" fill="#EF7428" stroke="#EF7428" stroke-width="0.6"/>
<circle cx="431.05" cy="320.77" r="2.20" fill="#EF7428" stroke="#EF7428" stroke-width="0.6"/>
<circle cx="442.76" cy="319.96" r="2.20" fill="#EF7428" stroke="#EF7428" stroke-width="0.6"/>
<circle cx="454.47" cy="321.73" r="2.20" fill="#EF7428" stroke="#EF7428" stroke-width="0.6"/>
<circle cx="466.17" cy="322.69" r="2.20" fill="#EF7428" stroke="#EF7428" stroke-width="0.6"/>
<circle cx="477.88" cy="318.84" r="2.20" fill="#EF7428" stroke="#EF7428" stroke-width="0.6"/>
<circle cx="489.58" cy="318.52" r="2.20" fill="#EF7428" stroke="#EF7428" stroke-width="0.6"/>
<circle cx="501.28" cy="320.93" r="2.20" fill="#EF7428" stroke="#EF7428" stroke-width="0.6"/>
<circle cx="512.99" cy="321.57" r="2.20" fill="#EF7428" stroke="#EF7428" stroke-width="0.6"/>
<circle cx="524.69" cy="320.93" r="2.20" fill="#EF7428" stroke="#EF7428" stroke-width="0.6"/>
<circle cx="536.40" cy="320.77" r="2.20" fill="#EF7428" stroke="#EF7428" stroke-width="0.6"/>
<polyline points="28.30,228.23 39.77,253.05 51.23,252.25 62.70,251.05 74.16,228.23 85.62,261.46 97.09,259.46 108.56,233.04 120.02,255.85 131.49,271.06 142.95,217.83 154.42,243.84 165.88,231.84 177.35,255.85 188.81,257.45 200.28,247.85 211.74,235.44 223.21,259.06 234.67,264.26 246.13,257.45 257.60,236.24" fill="none" stroke="#A5A5A5" stroke-width="1.30" stroke-linejoin="round"/>
<circle cx="28.30" cy="228.23" r="2.20" fill="#A5A5A5" stroke="#A5A5A5" stroke-width="0.6"/>
<circle cx="39.77" cy="253.05" r="2.20" fill="#A5A5A5" stroke="#A5A5A5" stroke-width="0.6"/>
<circle cx="51.23" cy="252.25" r="2.20" fill="#A5A5A5" stroke="#A5A5A5" stroke-width="0.6"/>
<circle cx="62.70" cy="251.05" r="2.20" fill="#A5A5A5" stroke="#A5A5A5" stroke-width="0.6"/>
<circle cx="74.16" cy="228.23" r="2.20" fill="#A5A5A5" stroke="#A5A5A5" stroke-width="0.6"/>
<circle cx="85.62" cy="261.46" r="2.20" fill="#A5A5A5" stroke="#A5A5A5" stroke-width="0.6"/>
<circle cx="97.09" cy="259.46" r="2.20" fill="#A5A5A5" stroke="#A5A5A5" stroke-width="0.6"/>
<circle cx="108.56" cy="233.04" r="2.20" fill="#A5A5A5" stroke="#A5A5A5" stroke-width="0.6"/>
<circle cx="120.02" cy="255.85" r="2.20" fill="#A5A5A5" stroke="#A5A5A5" stroke-width="0.6"/>
<circle cx="131.49" cy="271.06" r="2.20" fill="#A5A5A5" stroke="#A5A5A5" stroke-width="0.6"/>
<circle cx="142.95" cy="217.83" r="2.20" fill="#A5A5A5" stroke="#A5A5A5" stroke-width="0.6"/>
<circle cx="154.42" cy="243.84" r="2.20" fill="#A5A5A5" stroke="#A5A5A5" stroke-width="0.6"/>
<circle cx="165.88" cy="231.84" r="2.20" fill="#A5A5A5" stroke="#A5A5A5" stroke-width="0.6"/>
<circle cx="177.35" cy="255.85" r="2.20" fill="#A5A5A5" stroke="#A5A5A5" stroke-width="0.6"/>
<circle cx="188.81" cy="257.45" r="2.20" fill="#A5A5A5" stroke="#A5A5A5" stroke-width="0.6"/>
<circle cx="200.28" cy="247.85" r="2.20" fill="#A5A5A5" stroke="#A5A5A5" stroke-width="0.6"/>
<circle cx="211.74" cy="235.44" r="2.20" fill="#A5A5A5" stroke="#A5A5A5" stroke-width="0.6"/>
<circle cx="223.21" cy="259.06" r="2.20" fill="#A5A5A5" stroke="#A5A5A5" stroke-width="0.6"/>
<circle cx="234.67" cy="264.26" r="2.20" fill="#A5A5A5" stroke="#A5A5A5" stroke-width="0.6"/>
<circle cx="246.13" cy="257.45" r="2.20" fill="#A5A5A5" stroke="#A5A5A5" stroke-width="0.6"/>
<circle cx="257.60" cy="236.24" r="2.20" fill="#A5A5A5" stroke="#A5A5A5" stroke-width="0.6"/>
<polyline points="302.30,289.64 314.00,271.51 325.71,272.79 337.42,293.17 349.12,276.00 360.82,290.76 372.53,282.10 384.24,293.97 395.94,294.45 407.64,294.45 419.35,295.42 431.05,297.34 442.76,291.24 454.47,307.93 466.17,303.76 477.88,280.01 489.58,272.31 501.28,277.93 512.99,287.55 524.69,282.10 536.40,296.06" fill="none" stroke="#A5A5A5" stroke-width="1.30" stroke-linejoin="round"/>
<circle cx="302.30" cy="289.64" r="2.20" fill="#A5A5A5" stroke="#A5A5A5" stroke-width="0.6"/>
<circle cx="314.00" cy="271.51" r="2.20" fill="#A5A5A5" stroke="#A5A5A5" stroke-width="0.6"/>
<circle cx="325.71" cy="272.79" r="2.20" fill="#A5A5A5" stroke="#A5A5A5" stroke-width="0.6"/>
<circle cx="337.42" cy="293.17" r="2.20" fill="#A5A5A5" stroke="#A5A5A5" stroke-width="0.6"/>
<circle cx="349.12" cy="276.00" r="2.20" fill="#A5A5A5" stroke="#A5A5A5" stroke-width="0.6"/>
<circle cx="360.82" cy="290.76" r="2.20" fill="#A5A5A5" stroke="#A5A5A5" stroke-width="0.6"/>
<circle cx="372.53" cy="282.10" r="2.20" fill="#A5A5A5" stroke="#A5A5A5" stroke-width="0.6"/>
<circle cx="384.24" cy="293.97" r="2.20" fill="#A5A5A5" stroke="#A5A5A5" stroke-width="0.6"/>
<circle cx="395.94" cy="294.45" r="2.20" fill="#A5A5A5" stroke="#A5A5A5" stroke-width="0.6"/>
<circle cx="407.64" cy="294.45" r="2.20" fill="#A5A5A5" stroke="#A5A5A5" stroke-width="0.6"/>
<circle cx="419.35" cy="295.42" r="2.20" fill="#A5A5A5" stroke="#A5A5A5" stroke-width="0.6"/>
<circle cx="431.05" cy="297.34" r="2.20" fill="#A5A5A5" stroke="#A5A5A5" stroke-width="0.6"/>
<circle cx="442.76" cy="291.24" r="2.20" fill="#A5A5A5" stroke="#A5A5A5" stroke-width="0.6"/>
<circle cx="454.47" cy="307.93" r="2.20" fill="#A5A5A5" stroke="#A5A5A5" stroke-width="0.6"/>
<circle cx="466.17" cy="303.76" r="2.20" fill="#A5A5A5" stroke="#A5A5A5" stroke-width="0.6"/>
<circle cx="477.88" cy="280.01" r="2.20" fill="#A5A5A5" stroke="#A5A5A5" stroke-width="0.6"/>
<circle cx="489.58" cy="272.31" r="2.20" fill="#A5A5A5" stroke="#A5A5A5" stroke-width="0.6"/>
<circle cx="501.28" cy="277.93" r="2.20" fill="#A5A5A5" stroke="#A5A5A5" stroke-width="0.6"/>
<circle cx="512.99" cy="287.55" r="2.20" fill="#A5A5A5" stroke="#A5A5A5" stroke-width="0.6"/>
<circle cx="524.69" cy="282.10" r="2.20" fill="#A5A5A5" stroke="#A5A5A5" stroke-width="0.6"/>
<circle cx="536.40" cy="296.06" r="2.20" fill="#A5A5A5" stroke="#A5A5A5" stroke-width="0.6"/>
<polyline points="28.30,230.23 39.77,263.86 51.23,256.25 62.70,241.84 74.16,220.23 85.62,257.85 97.09,261.46 108.56,245.85 120.02,254.65 131.49,280.27 142.95,241.04 154.42,226.63 165.88,215.02 177.35,259.86 188.81,251.85 200.28,250.25 211.74,229.43 223.21,232.64 234.67,253.45 246.13,250.65 257.60,229.83" fill="none" stroke="#64B03A" stroke-width="1.30" stroke-linejoin="round"/>
<circle cx="28.30" cy="230.23" r="2.20" fill="#64B03A" stroke="#64B03A" stroke-width="0.6"/>
<circle cx="39.77" cy="263.86" r="2.20" fill="#64B03A" stroke="#64B03A" stroke-width="0.6"/>
<circle cx="51.23" cy="256.25" r="2.20" fill="#64B03A" stroke="#64B03A" stroke-width="0.6"/>
<circle cx="62.70" cy="241.84" r="2.20" fill="#64B03A" stroke="#64B03A" stroke-width="0.6"/>
<circle cx="74.16" cy="220.23" r="2.20" fill="#64B03A" stroke="#64B03A" stroke-width="0.6"/>
<circle cx="85.62" cy="257.85" r="2.20" fill="#64B03A" stroke="#64B03A" stroke-width="0.6"/>
<circle cx="97.09" cy="261.46" r="2.20" fill="#64B03A" stroke="#64B03A" stroke-width="0.6"/>
<circle cx="108.56" cy="245.85" r="2.20" fill="#64B03A" stroke="#64B03A" stroke-width="0.6"/>
<circle cx="120.02" cy="254.65" r="2.20" fill="#64B03A" stroke="#64B03A" stroke-width="0.6"/>
<circle cx="131.49" cy="280.27" r="2.20" fill="#64B03A" stroke="#64B03A" stroke-width="0.6"/>
<circle cx="142.95" cy="241.04" r="2.20" fill="#64B03A" stroke="#64B03A" stroke-width="0.6"/>
<circle cx="154.42" cy="226.63" r="2.20" fill="#64B03A" stroke="#64B03A" stroke-width="0.6"/>
<circle cx="165.88" cy="215.02" r="2.20" fill="#64B03A" stroke="#64B03A" stroke-width="0.6"/>
<circle cx="177.35" cy="259.86" r="2.20" fill="#64B03A" stroke="#64B03A" stroke-width="0.6"/>
<circle cx="188.81" cy="251.85" r="2.20" fill="#64B03A" stroke="#64B03A" stroke-width="0.6"/>
<circle cx="200.28" cy="250.25" r="2.20" fill="#64B03A" stroke="#64B03A" stroke-width="0.6"/>
<circle cx="211.74" cy="229.43" r="2.20" fill="#64B03A" stroke="#64B03A" stroke-width="0.6"/>
<circle cx="223.21" cy="232.64" r="2.20" fill="#64B03A" stroke="#64B03A" stroke-width="0.6"/>
<circle cx="234.67" cy="253.45" r="2.20" fill="#64B03A" stroke="#64B03A" stroke-width="0.6"/>
<circle cx="246.13" cy="250.65" r="2.20" fill="#64B03A" stroke="#64B03A" stroke-width="0.6"/>
<circle cx="257.60" cy="229.83" r="2.20" fill="#64B03A" stroke="#64B03A" stroke-width="0.6"/>
<polyline points="302.30,244.07 314.00,202.36 325.71,203.96 337.42,260.12 349.12,235.41 360.82,268.14 372.53,253.06 384.24,264.13 395.94,271.51 407.64,268.62 419.35,264.61 431.05,276.00 442.76,273.11 454.47,286.27 466.17,284.99 477.88,268.14 489.58,256.91 501.28,259.64 512.99,265.89 524.69,255.63 536.40,276.16" fill="none" stroke="#64B03A" stroke-width="1.30" stroke-linejoin="round"/>
<circle cx="302.30" cy="244.07" r="2.20" fill="#64B03A" stroke="#64B03A" stroke-width="0.6"/>
<circle cx="314.00" cy="202.36" r="2.20" fill="#64B03A" stroke="#64B03A" stroke-width="0.6"/>
<circle cx="325.71" cy="203.96" r="2.20" fill="#64B03A" stroke="#64B03A" stroke-width="0.6"/>
<circle cx="337.42" cy="260.12" r="2.20" fill="#64B03A" stroke="#64B03A" stroke-width="0.6"/>
<circle cx="349.12" cy="235.41" r="2.20" fill="#64B03A" stroke="#64B03A" stroke-width="0.6"/>
<circle cx="360.82" cy="268.14" r="2.20" fill="#64B03A" stroke="#64B03A" stroke-width="0.6"/>
<circle cx="372.53" cy="253.06" r="2.20" fill="#64B03A" stroke="#64B03A" stroke-width="0.6"/>
<circle cx="384.24" cy="264.13" r="2.20" fill="#64B03A" stroke="#64B03A" stroke-width="0.6"/>
<circle cx="395.94" cy="271.51" r="2.20" fill="#64B03A" stroke="#64B03A" stroke-width="0.6"/>
<circle cx="407.64" cy="268.62" r="2.20" fill="#64B03A" stroke="#64B03A" stroke-width="0.6"/>
<circle cx="419.35" cy="264.61" r="2.20" fill="#64B03A" stroke="#64B03A" stroke-width="0.6"/>
<circle cx="431.05" cy="276.00" r="2.20" fill="#64B03A" stroke="#64B03A" stroke-width="0.6"/>
<circle cx="442.76" cy="273.11" r="2.20" fill="#64B03A" stroke="#64B03A" stroke-width="0.6"/>
<circle cx="454.47" cy="286.27" r="2.20" fill="#64B03A" stroke="#64B03A" stroke-width="0.6"/>
<circle cx="466.17" cy="284.99" r="2.20" fill="#64B03A" stroke="#64B03A" stroke-width="0.6"/>
<circle cx="477.88" cy="268.14" r="2.20" fill="#64B03A" stroke="#64B03A" stroke-width="0.6"/>
<circle cx="489.58" cy="256.91" r="2.20" fill="#64B03A" stroke="#64B03A" stroke-width="0.6"/>
<circle cx="501.28" cy="259.64" r="2.20" fill="#64B03A" stroke="#64B03A" stroke-width="0.6"/>
<circle cx="512.99" cy="265.89" r="2.20" fill="#64B03A" stroke="#64B03A" stroke-width="0.6"/>
<circle cx="524.69" cy="255.63" r="2.20" fill="#64B03A" stroke="#64B03A" stroke-width="0.6"/>
<circle cx="536.40" cy="276.16" r="2.20" fill="#64B03A" stroke="#64B03A" stroke-width="0.6"/>
<line x1="28.30" y1="424.40" x2="256.60" y2="424.40" stroke="#8C8C8C" stroke-width="1.5" stroke-dasharray="8,3.8"/>
<line x1="307.40" y1="407.68" x2="536.50" y2="435.96" stroke="#8C8C8C" stroke-width="1.5" stroke-dasharray="8,3.8"/>
<polyline points="28.30,434.26 39.72,441.13 51.13,433.34 62.55,424.63 73.96,418.22 85.38,411.80 96.79,438.38 108.20,387.05 119.62,441.59 131.04,406.76 142.45,383.84 153.87,442.05 165.28,406.30 176.70,420.05 188.11,453.97 199.53,426.93 210.94,405.38 222.36,450.30 233.77,443.88 245.19,445.72 256.60,388.88" fill="none" stroke="#000000" stroke-width="1.50" stroke-linejoin="round"/>
<circle cx="28.30" cy="434.26" r="2.25" fill="#000000" stroke="#3F6AC8" stroke-width="0.6"/>
<circle cx="39.72" cy="441.13" r="2.25" fill="#000000" stroke="#3F6AC8" stroke-width="0.6"/>
<circle cx="51.13" cy="433.34" r="2.25" fill="#000000" stroke="#3F6AC8" stroke-width="0.6"/>
<circle cx="62.55" cy="424.63" r="2.25" fill="#000000" stroke="#3F6AC8" stroke-width="0.6"/>
<circle cx="73.96" cy="418.22" r="2.25" fill="#000000" stroke="#3F6AC8" stroke-width="0.6"/>
<circle cx="85.38" cy="411.80" r="2.25" fill="#000000" stroke="#3F6AC8" stroke-width="0.6"/>
<circle cx="96.79" cy="438.38" r="2.25" fill="#000000" stroke="#3F6AC8" stroke-width="0.6"/>
<circle cx="108.20" cy="387.05" r="2.25" fill="#000000" stroke="#3F6AC8" stroke-width="0.6"/>
<circle cx="119.62" cy="441.59" r="2.25" fill="#000000" stroke="#3F6AC8" stroke-width="0.6"/>
<circle cx="131.04" cy="406.76" r="2.25" fill="#000000" stroke="#3F6AC8" stroke-width="0.6"/>
<circle cx="142.45" cy="383.84" r="2.25" fill="#000000" stroke="#3F6AC8" stroke-width="0.6"/>
<circle cx="153.87" cy="442.05" r="2.25" fill="#000000" stroke="#3F6AC8" stroke-width="0.6"/>
<circle cx="165.28" cy="406.30" r="2.25" fill="#000000" stroke="#3F6AC8" stroke-width="0.6"/>
<circle cx="176.70" cy="420.05" r="2.25" fill="#000000" stroke="#3F6AC8" stroke-width="0.6"/>
<circle cx="188.11" cy="453.97" r="2.25" fill="#000000" stroke="#3F6AC8" stroke-width="0.6"/>
<circle cx="199.53" cy="426.93" r="2.25" fill="#000000" stroke="#3F6AC8" stroke-width="0.6"/>
<circle cx="210.94" cy="405.38" r="2.25" fill="#000000" stroke="#3F6AC8" stroke-width="0.6"/>
<circle cx="222.36" cy="450.30" r="2.25" fill="#000000" stroke="#3F6AC8" stroke-width="0.6"/>
<circle cx="233.77" cy="443.88" r="2.25" fill="#000000" stroke="#3F6AC8" stroke-width="0.6"/>
<circle cx="245.19" cy="445.72" r="2.25" fill="#000000" stroke="#3F6AC8" stroke-width="0.6"/>
<circle cx="256.60" cy="388.88" r="2.25" fill="#000000" stroke="#3F6AC8" stroke-width="0.6"/>
<polyline points="307.40,419.44 318.85,378.13 330.31,380.67 341.76,422.61 353.22,394.65 364.67,428.97 376.13,413.08 387.58,432.78 399.04,433.42 410.50,430.24 421.95,430.24 433.40,438.50 444.86,431.51 456.31,450.58 467.77,452.48 479.23,418.16 490.68,404.82 502.13,416.26 513.59,425.79 525.05,418.80 536.50,437.23" fill="none" stroke="#000000" stroke-width="1.50" stroke-linejoin="round"/>
<circle cx="307.40" cy="419.44" r="2.25" fill="#000000" stroke="#3F6AC8" stroke-width="0.6"/>
<circle cx="318.85" cy="378.13" r="2.25" fill="#000000" stroke="#3F6AC8" stroke-width="0.6"/>
<circle cx="330.31" cy="380.67" r="2.25" fill="#000000" stroke="#3F6AC8" stroke-width="0.6"/>
<circle cx="341.76" cy="422.61" r="2.25" fill="#000000" stroke="#3F6AC8" stroke-width="0.6"/>
<circle cx="353.22" cy="394.65" r="2.25" fill="#000000" stroke="#3F6AC8" stroke-width="0.6"/>
<circle cx="364.67" cy="428.97" r="2.25" fill="#000000" stroke="#3F6AC8" stroke-width="0.6"/>
<circle cx="376.13" cy="413.08" r="2.25" fill="#000000" stroke="#3F6AC8" stroke-width="0.6"/>
<circle cx="387.58" cy="432.78" r="2.25" fill="#000000" stroke="#3F6AC8" stroke-width="0.6"/>
<circle cx="399.04" cy="433.42" r="2.25" fill="#000000" stroke="#3F6AC8" stroke-width="0.6"/>
<circle cx="410.50" cy="430.24" r="2.25" fill="#000000" stroke="#3F6AC8" stroke-width="0.6"/>
<circle cx="421.95" cy="430.24" r="2.25" fill="#000000" stroke="#3F6AC8" stroke-width="0.6"/>
<circle cx="433.40" cy="438.50" r="2.25" fill="#000000" stroke="#3F6AC8" stroke-width="0.6"/>
<circle cx="444.86" cy="431.51" r="2.25" fill="#000000" stroke="#3F6AC8" stroke-width="0.6"/>
<circle cx="456.31" cy="450.58" r="2.25" fill="#000000" stroke="#3F6AC8" stroke-width="0.6"/>
<circle cx="467.77" cy="452.48" r="2.25" fill="#000000" stroke="#3F6AC8" stroke-width="0.6"/>
<circle cx="479.23" cy="418.16" r="2.25" fill="#000000" stroke="#3F6AC8" stroke-width="0.6"/>
<circle cx="490.68" cy="404.82" r="2.25" fill="#000000" stroke="#3F6AC8" stroke-width="0.6"/>
<circle cx="502.13" cy="416.26" r="2.25" fill="#000000" stroke="#3F6AC8" stroke-width="0.6"/>
<circle cx="513.59" cy="425.79" r="2.25" fill="#000000" stroke="#3F6AC8" stroke-width="0.6"/>
<circle cx="525.05" cy="418.80" r="2.25" fill="#000000" stroke="#3F6AC8" stroke-width="0.6"/>
<circle cx="536.50" cy="437.23" r="2.25" fill="#000000" stroke="#3F6AC8" stroke-width="0.6"/>
<rect x="22.80" y="6.60" width="234.80" height="141.40" fill="none" stroke="#595959" stroke-width="1.5"/>
<rect x="307.40" y="6.40" width="229.10" height="139.40" fill="none" stroke="#595959" stroke-width="1.5"/>
<rect x="28.30" y="181.40" width="229.30" height="140.10" fill="none" stroke="#595959" stroke-width="1.5"/>
<rect x="302.30" y="181.50" width="234.10" height="144.40" fill="none" stroke="#595959" stroke-width="1.5"/>
<rect x="28.30" y="356.80" width="228.30" height="137.50" fill="none" stroke="#595959" stroke-width="1.5"/>
<rect x="307.40" y="356.20" width="229.10" height="139.50" fill="none" stroke="#595959" stroke-width="1.5"/>
<line x1="166.40" y1="12.60" x2="183.60" y2="12.60" stroke="#3F6AC8" stroke-width="1.30"/>
<circle cx="175.00" cy="12.60" r="2.20" fill="#3F6AC8" stroke="#3F6AC8" stroke-width="0.6"/>
<text x="185.10" y="15.10" class="lg">SNP</text>
<line x1="212.40" y1="12.60" x2="228.70" y2="12.60" stroke="#EF7428" stroke-width="1.30"/>
<circle cx="220.55" cy="12.60" r="2.20" fill="#EF7428" stroke="#EF7428" stroke-width="0.6"/>
<text x="230.00" y="15.10" class="lg">SJP</text>
<line x1="166.40" y1="20.50" x2="183.60" y2="20.50" stroke="#A5A5A5" stroke-width="1.30"/>
<circle cx="175.00" cy="20.50" r="2.20" fill="#A5A5A5" stroke="#A5A5A5" stroke-width="0.6"/>
<text x="185.10" y="23.00" class="lg">LRP</text>
<line x1="212.40" y1="20.50" x2="228.70" y2="20.50" stroke="#FFC000" stroke-width="1.30"/>
<circle cx="220.55" cy="20.50" r="2.20" fill="#FFC000" stroke="#FFC000" stroke-width="0.6"/>
<text x="230.00" y="23.00" class="lg">LKMR</text>
<line x1="166.40" y1="28.30" x2="183.60" y2="28.30" stroke="#4F97D8" stroke-width="1.30"/>
<circle cx="175.00" cy="28.30" r="2.20" fill="#4F97D8" stroke="#4F97D8" stroke-width="0.6"/>
<text x="185.10" y="30.80" class="lg">GKMR</text>
<line x1="212.40" y1="28.30" x2="228.70" y2="28.30" stroke="#64B03A" stroke-width="1.30"/>
<circle cx="220.55" cy="28.30" r="2.20" fill="#64B03A" stroke="#64B03A" stroke-width="0.6"/>
<text x="230.00" y="30.80" class="lg">CBMR</text>
<line x1="450.90" y1="12.60" x2="467.30" y2="12.60" stroke="#3F6AC8" stroke-width="1.30"/>
<circle cx="459.10" cy="12.60" r="2.20" fill="#3F6AC8" stroke="#3F6AC8" stroke-width="0.6"/>
<text x="468.70" y="15.10" class="lg">SNP</text>
<line x1="493.60" y1="12.60" x2="510.00" y2="12.60" stroke="#EF7428" stroke-width="1.30"/>
<circle cx="501.80" cy="12.60" r="2.20" fill="#EF7428" stroke="#EF7428" stroke-width="0.6"/>
<text x="511.30" y="15.10" class="lg">SJP</text>
<line x1="450.90" y1="21.60" x2="467.30" y2="21.60" stroke="#A5A5A5" stroke-width="1.30"/>
<circle cx="459.10" cy="21.60" r="2.20" fill="#A5A5A5" stroke="#A5A5A5" stroke-width="0.6"/>
<text x="468.70" y="24.10" class="lg">LRP</text>
<line x1="493.60" y1="21.60" x2="510.00" y2="21.60" stroke="#FFC000" stroke-width="1.30"/>
<circle cx="501.80" cy="21.60" r="2.20" fill="#FFC000" stroke="#FFC000" stroke-width="0.6"/>
<text x="511.30" y="24.10" class="lg">LKMR</text>
<line x1="450.90" y1="30.50" x2="467.30" y2="30.50" stroke="#4F97D8" stroke-width="1.30"/>
<circle cx="459.10" cy="30.50" r="2.20" fill="#4F97D8" stroke="#4F97D8" stroke-width="0.6"/>
<text x="468.70" y="33.00" class="lg">GKMR</text>
<line x1="493.60" y1="30.50" x2="510.00" y2="30.50" stroke="#64B03A" stroke-width="1.30"/>
<circle cx="501.80" cy="30.50" r="2.20" fill="#64B03A" stroke="#64B03A" stroke-width="0.6"/>
<text x="511.30" y="33.00" class="lg">CBMR</text>
<line x1="155.00" y1="188.00" x2="171.60" y2="188.00" stroke="#3F6AC8" stroke-width="1.30"/>
<circle cx="163.30" cy="188.00" r="2.20" fill="#3F6AC8" stroke="#3F6AC8" stroke-width="0.6"/>
<text x="173.00" y="190.50" class="lg2">Cropland</text>
<line x1="207.00" y1="188.00" x2="223.00" y2="188.00" stroke="#EF7428" stroke-width="1.30"/>
<circle cx="215.00" cy="188.00" r="2.20" fill="#EF7428" stroke="#EF7428" stroke-width="0.6"/>
<text x="224.40" y="190.50" class="lg2">Forest</text>
<line x1="155.00" y1="196.40" x2="171.60" y2="196.40" stroke="#A5A5A5" stroke-width="1.30"/>
<circle cx="163.30" cy="196.40" r="2.20" fill="#A5A5A5" stroke="#A5A5A5" stroke-width="0.6"/>
<text x="173.00" y="198.90" class="lg2">Grassland</text>
<line x1="207.00" y1="196.40" x2="223.00" y2="196.40" stroke="#64B03A" stroke-width="1.30"/>
<circle cx="215.00" cy="196.40" r="2.20" fill="#64B03A" stroke="#64B03A" stroke-width="0.6"/>
<text x="224.40" y="198.90" class="lg2">Bare land</text>
<line x1="432.00" y1="188.00" x2="448.40" y2="188.00" stroke="#3F6AC8" stroke-width="1.30"/>
<circle cx="440.20" cy="188.00" r="2.20" fill="#3F6AC8" stroke="#3F6AC8" stroke-width="0.6"/>
<text x="449.60" y="190.50" class="lg2">Cropland</text>
<line x1="485.00" y1="188.00" x2="501.40" y2="188.00" stroke="#EF7428" stroke-width="1.30"/>
<circle cx="493.20" cy="188.00" r="2.20" fill="#EF7428" stroke="#EF7428" stroke-width="0.6"/>
<text x="503.00" y="190.50" class="lg2">Forest</text>
<line x1="432.00" y1="196.20" x2="448.40" y2="196.20" stroke="#A5A5A5" stroke-width="1.30"/>
<circle cx="440.20" cy="196.20" r="2.20" fill="#A5A5A5" stroke="#A5A5A5" stroke-width="0.6"/>
<text x="449.60" y="198.70" class="lg2">Grassland</text>
<line x1="485.00" y1="196.20" x2="501.40" y2="196.20" stroke="#64B03A" stroke-width="1.30"/>
<circle cx="493.20" cy="196.20" r="2.20" fill="#64B03A" stroke="#64B03A" stroke-width="0.6"/>
<text x="503.00" y="198.70" class="lg2">Bare land</text>
<line x1="174.90" y1="364.50" x2="196.20" y2="364.50" stroke="#000000" stroke-width="1.50"/>
<circle cx="185.55" cy="364.50" r="2.25" fill="#000000" stroke="#3F6AC8" stroke-width="0.6"/>
<text x="198.80" y="367.00" class="lg3">Northeast China</text>
<line x1="454.90" y1="364.50" x2="475.40" y2="364.50" stroke="#000000" stroke-width="1.50"/>
<circle cx="465.15" cy="364.50" r="2.25" fill="#000000" stroke="#3F6AC8" stroke-width="0.6"/>
<text x="478.40" y="367.00" class="lg3">Northeast China</text>
<text x="214.50" y="478.60" class="eq" text-anchor="middle">y = 0.0008x − 0.1321</text>
<text x="214.00" y="487.10" class="eq" text-anchor="middle">R² = 0.0001</text>
<text x="494.80" y="475.50" class="eq" text-anchor="middle">y = −0.0222x + 45.684</text>
<text x="494.00" y="484.00" class="eq" text-anchor="middle">R² = 0.2045</text>
</svg>
</body></html>
